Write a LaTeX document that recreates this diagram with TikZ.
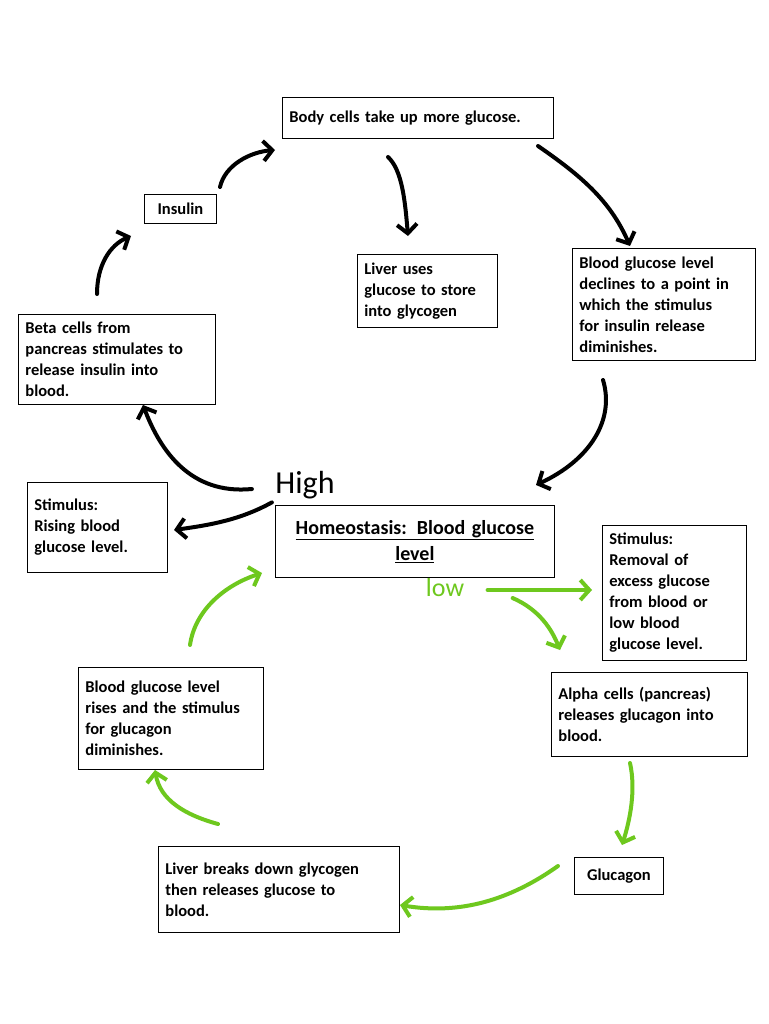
\documentclass[tikz,border=0pt]{standalone}
\usepackage{fontspec}
\setmainfont{Carlito}
\usetikzlibrary{arrows.meta,positioning}
\tikzset{
  box/.style={draw, line width=0.8pt, align=left, anchor=north west, inner sep=7pt,
    font=\fontsize{16.5}{21}\selectfont\bfseries},
  blk/.style={line width=4pt, line cap=round, -{Straight Barb[length=9pt,width=20pt,line width=4pt]}},
  grn/.style={blk, draw=lgreen},
}
\definecolor{lgreen}{RGB}{110,200,30}
\begin{document}
\begin{tikzpicture}[x=1pt,y=-1pt]
  \useasboundingbox[fill=white] (0,0) rectangle (768,1024);

  % boxes
  \node[box, minimum width=271pt, minimum height=41pt, text width=257pt] (body) at (282,97) {Body cells take up more glucose.};
  \node[box, minimum width=72pt, minimum height=29pt, inner sep=4pt] (ins) at (144,194) {Insulin};
  \node[box, minimum width=140pt, minimum height=73pt, text width=126pt] (liver) at (357,254) {Liver uses\\glucose to store\\into glycogen};
  \node[box, minimum width=183pt, minimum height=112pt, text width=169pt] (decl) at (572,248) {Blood glucose level\\declines to a point in\\which the stimulus\\for insulin release\\diminishes.};
  \node[box, minimum width=197pt, minimum height=90pt, text width=183pt] (beta) at (18,314) {Beta cells from\\pancreas stimulates to\\release insulin into\\blood.};
  \node[box, minimum width=140pt, minimum height=90pt, text width=126pt] (rise) at (27,482) {Stimulus:\\Rising blood\\glucose level.};
  \node[draw, line width=0.8pt, anchor=north west, minimum width=279pt, minimum height=72pt,
    text width=265pt, align=center, inner sep=5pt, font=\fontsize{20}{26}\selectfont\bfseries] (home) at (275,505)
    {\underline{Homeostasis: Blood glucose}\\\underline{level}};
  \node[box, minimum width=144pt, minimum height=135pt, text width=130pt] (remo) at (602,525) {Stimulus:\\Removal of\\excess glucose\\from blood or\\low blood\\glucose level.};
  \node[box, minimum width=185pt, minimum height=102pt, text width=171pt] (bgr) at (78,667) {Blood glucose level\\rises and the stimulus\\for glucagon\\diminishes.};
  \node[box, minimum width=196pt, minimum height=84pt, text width=182pt] (alpha) at (551,672) {Alpha cells (pancreas)\\releases glucagon into\\blood.};
  \node[box, minimum width=241pt, minimum height=86pt, text width=227pt] (lbreak) at (158,846) {Liver breaks down glycogen\\then releases glucose to\\blood.};
  \node[box, minimum width=89pt, minimum height=37pt] (gluc) at (574,857) {Glucagon};

  % handwritten labels
  \node[font=\fontsize{32}{32}\selectfont] (high) at (305,485) {High};
  \node[font=\fontsize{26}{26}\selectfont, text=lgreen] (low) at (445,588) {low};

  % black loop
  \coordinate (a1) at (97,294);
  \coordinate (a2) at (220,187);
  \coordinate (a3) at (388,157);
  \coordinate (a4) at (538,146);
  \coordinate (a5) at (603,380);
  \draw[blk] (a1) .. controls (97,265) and (110,245) .. (131,236);
  \draw[blk] (a2) .. controls (225,165) and (250,152) .. (275,150);
  \draw[blk] (a3) .. controls (402,170) and (405,200) .. (408,236);
  \draw[blk] (a4) .. controls (580,175) and (610,200) .. (630,246);
  \draw[blk] (a5) .. controls (615,420) and (590,460) .. (536,485);
  \draw[blk] (high.west) ++(-20,4) .. controls (190,495) and (160,450) .. (143,405);
  \draw[blk] (high.south west) ++(0,0) .. controls (240,520) and (210,525) .. (174,530);

  % green loop
  \coordinate (g1) at (630,763);
  \coordinate (g2) at (558,866);
  \coordinate (g3) at (218,824);
  \coordinate (g4) at (190,645);
  \draw[grn] (low.east) ++(20,2) -- (592,590);
  \draw[grn] (low.east) ++(45,10) .. controls (540,610) and (552,630) .. (560,650);
  \draw[grn] (g1) .. controls (636,790) and (630,820) .. (622,845);
  \draw[grn] (g2) .. controls (510,900) and (460,915) .. (400,905);
  \draw[grn] (g3) .. controls (185,815) and (160,800) .. (155,770);
  \draw[grn] (g4) .. controls (195,610) and (225,585) .. (262,573);
\end{tikzpicture}
\end{document}
